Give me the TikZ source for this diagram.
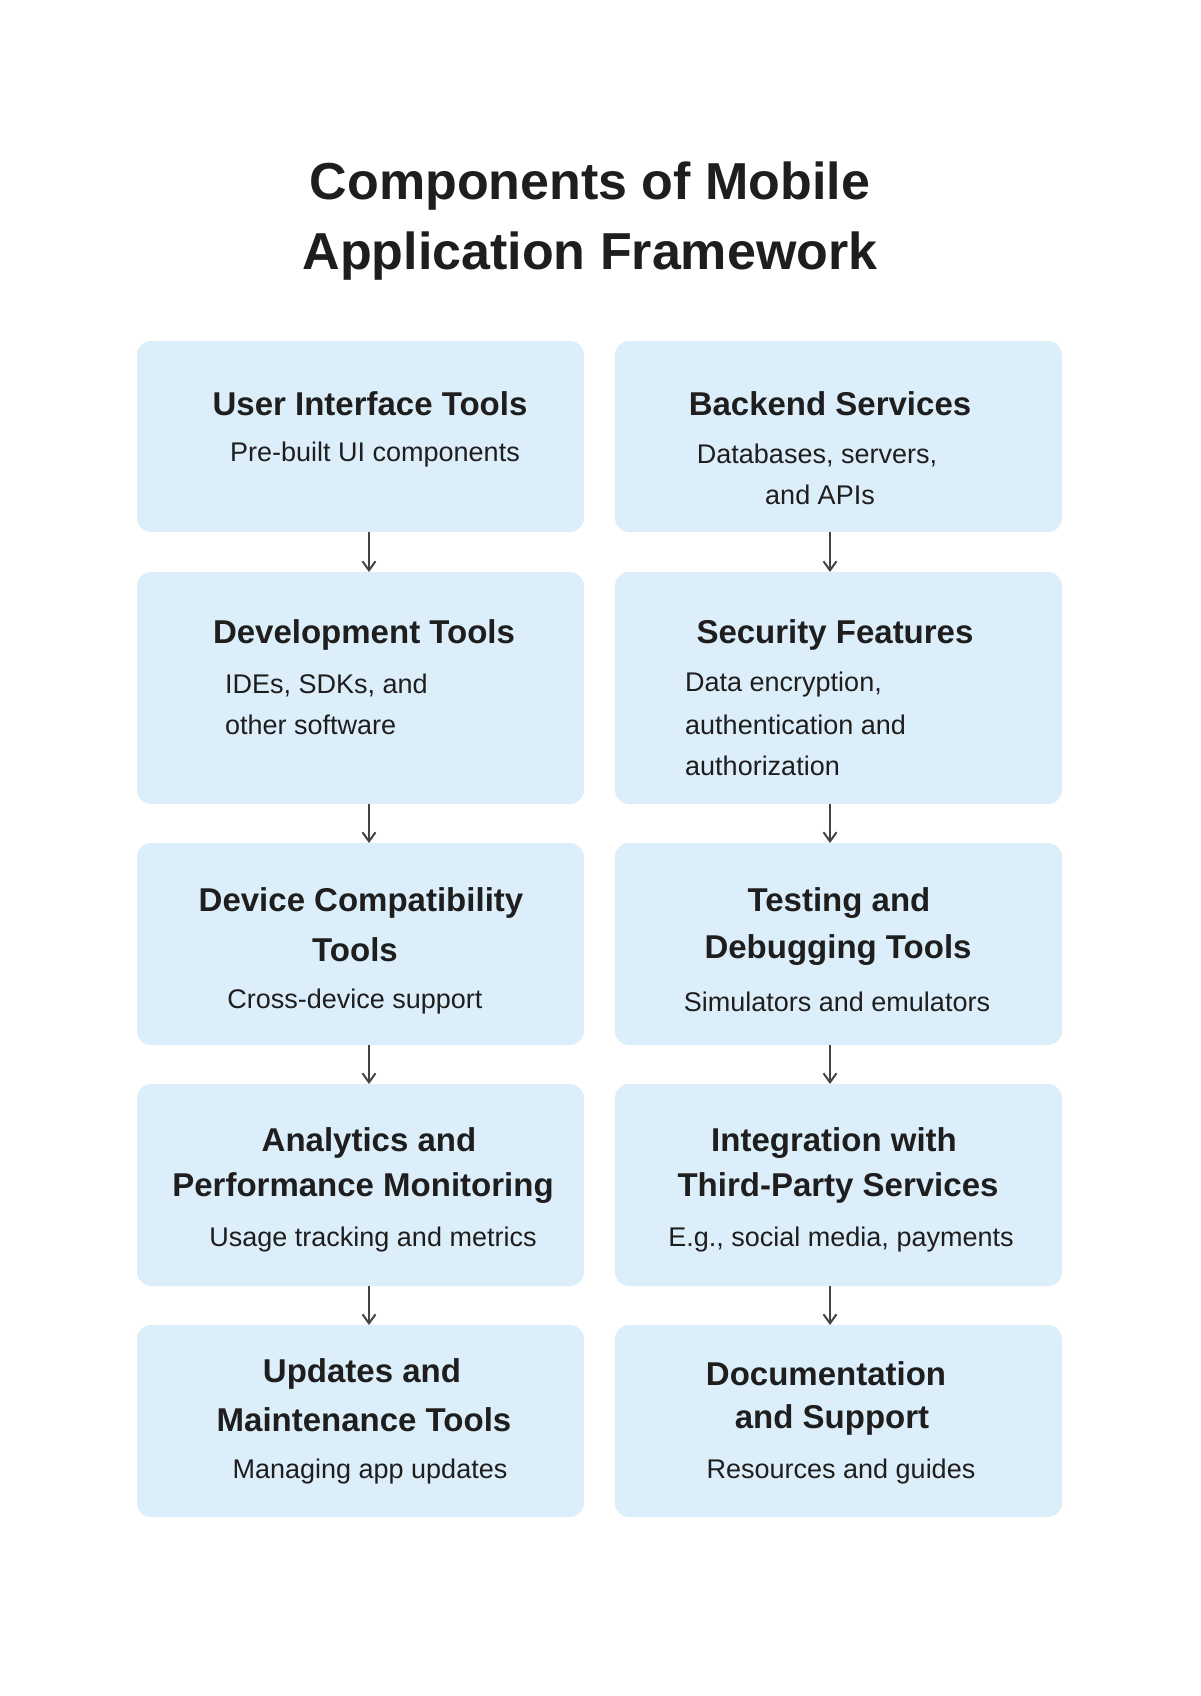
\documentclass[tikz,border=0pt]{standalone}
\usepackage{fontspec}
\setmainfont{Liberation Sans}
\usetikzlibrary{arrows.meta}
\definecolor{boxfill}{HTML}{DDEEFB}
\definecolor{ink}{HTML}{1E1E1E}
\definecolor{arr}{HTML}{444444}
\begin{document}
\begin{tikzpicture}[x=1pt,y=1pt,
  card/.style={fill=boxfill,draw=none,rounded corners=14pt},
  ttl/.style={text=ink,font=\fontsize{52}{60}\selectfont\bfseries,inner sep=0},
  hd/.style={text=ink,font=\fontsize{33}{40}\selectfont\bfseries,inner sep=0},
  sb/.style={text=ink,font=\fontsize{27}{32}\selectfont,inner sep=0},
  sbl/.style={sb,anchor=west},
  link/.style={draw=arr,line width=2pt,-{Straight Barb[length=9pt,width=13pt]}}]
\useasboundingbox (0,0) rectangle (1200,-1696);
\fill[white] (0,0) rectangle (1200,-1696);
\node[ttl] (t1) at (590,-186) {Components of Mobile};
\node[ttl] (t2) at (590,-256) {Application Framework};
% boxes
\foreach \n/\xa/\xb/\ya/\yb in {L1/137/584/341/532,L2/137/584/572/804,L3/137/584/843/1045,L4/137/584/1084/1286,L5/137/584/1325/1517,
R1/615/1062/341/532,R2/615/1062/572/804,R3/615/1062/843/1045,R4/615/1062/1084/1286,R5/615/1062/1325/1517}
  \path[card] (\xa,-\ya) rectangle (\xb,-\yb) coordinate[pos=0.5] (\n);
\foreach \n/\xa/\xb/\ya/\yb in {L1/137/584/341/532,L2/137/584/572/804,L3/137/584/843/1045,L4/137/584/1084/1286,L5/137/584/1325/1517,
R1/615/1062/341/532,R2/615/1062/572/804,R3/615/1062/843/1045,R4/615/1062/1084/1286,R5/615/1062/1325/1517}
  {\coordinate (\n t) at (369+461*0,-\ya); }
% arrow anchors
\foreach \r/\ya/\yb in {1/532/572,2/804/843,3/1045/1084,4/1286/1325}{
  \coordinate (la\r) at (369,-\ya); \coordinate (lb\r) at (369,-\yb);
  \coordinate (ra\r) at (830,-\ya); \coordinate (rb\r) at (830,-\yb);
  \draw[link] (la\r) -- (lb\r);
  \draw[link] (ra\r) -- (rb\r);}
% row 1
\node[hd] (h1) at (370,-404) {User Interface Tools};
\node[sb] (s1) at (375,-455) {Pre-built UI components};
\node[hd] (h2) at (830,-404) {Backend Services};
\node[sb] (s2a) at (817,-455) {Databases, servers,};
\node[sb] (s2b) at (820,-495) {and APIs};
% row 2
\node[hd] (h3) at (364,-635) {Development Tools};
\node[sbl] (s3a) at (225,-685) {IDEs, SDKs, and};
\node[sbl] (s3b) at (225,-725) {other software};
\node[hd] (h4) at (835,-635) {Security Features};
\node[sbl] (s4a) at (685,-685) {Data encryption,};
\node[sbl] (s4b) at (685,-725) {authentication and};
\node[sbl] (s4c) at (685,-766) {authorization};
% row 3
\node[hd] (h5a) at (361,-903) {Device Compatibility};
\node[hd] (h5b) at (355,-950) {Tools};
\node[sb] (s5) at (355,-1002) {Cross-device support};
\node[hd] (h6a) at (839,-903) {Testing and};
\node[hd] (h6b) at (838,-950) {Debugging Tools};
\node[sb] (s6) at (837,-1002) {Simulators and emulators};
% row 4
\node[hd] (h7a) at (369,-1143) {Analytics and};
\node[hd] (h7b) at (363,-1188) {Performance Monitoring};
\node[sb] (s7) at (373,-1240) {Usage tracking and metrics};
\node[hd] (h8a) at (834,-1143) {Integration with};
\node[hd] (h8b) at (838,-1188) {Third-Party Services};
\node[sb] (s8) at (841,-1240) {E.g., social media, payments};
% row 5
\node[hd] (h9a) at (362,-1374) {Updates and};
\node[hd] (h9b) at (364,-1420) {Maintenance Tools};
\node[sb] (s9) at (370,-1472) {Managing app updates};
\node[hd] (h10a) at (826,-1374) {Documentation};
\node[hd] (h10b) at (832,-1420) {and Support};
\node[sb] (s10) at (841,-1472) {Resources and guides};
\end{tikzpicture}
\end{document}
